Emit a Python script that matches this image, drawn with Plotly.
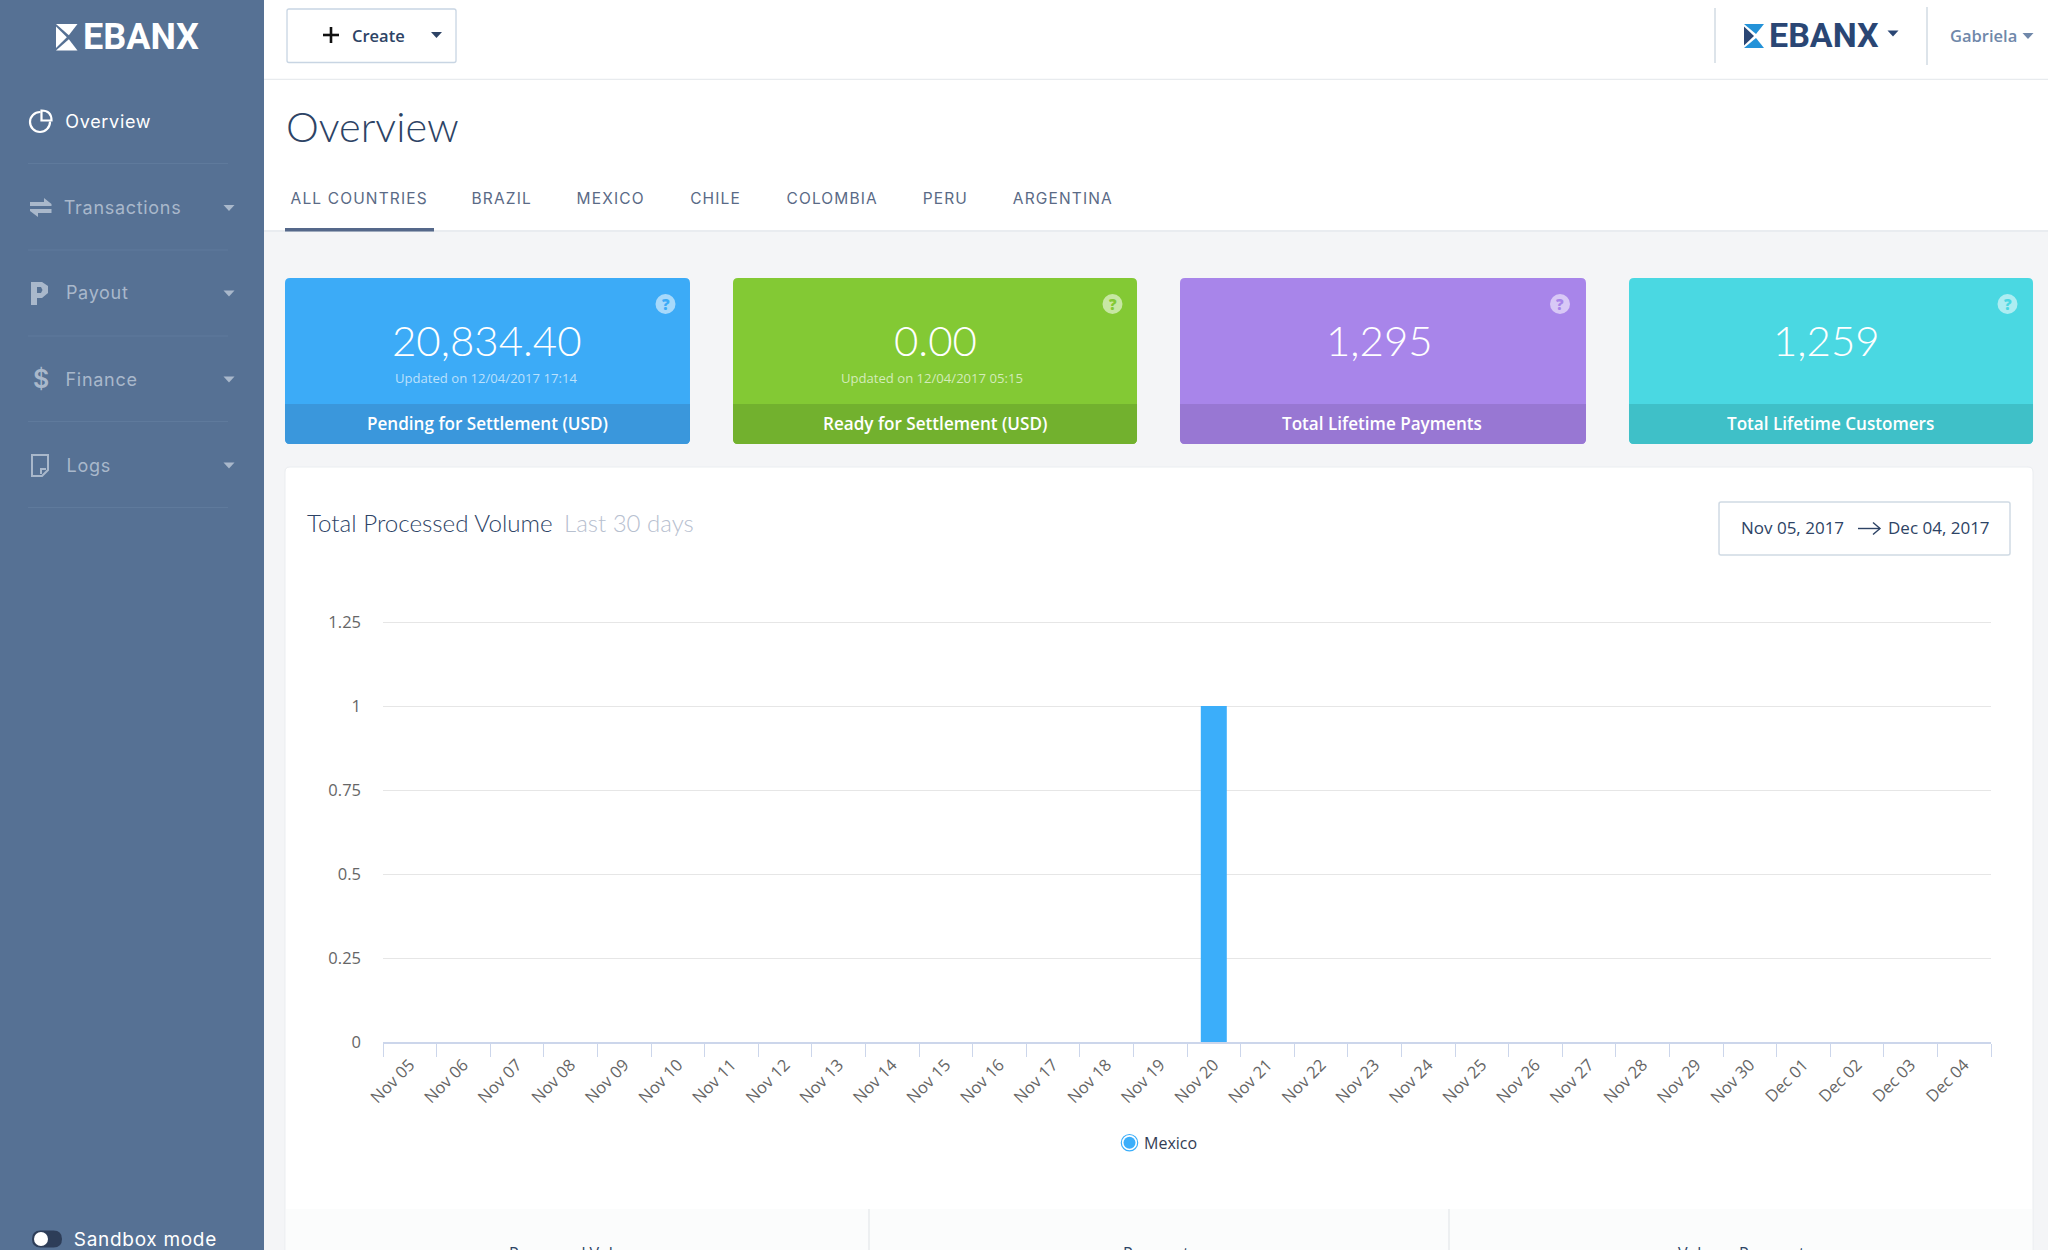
import plotly.graph_objects as go

W, H = 2048, 1250

# ---- chart data ----
dates = ["Nov 05","Nov 06","Nov 07","Nov 08","Nov 09","Nov 10","Nov 11","Nov 12","Nov 13","Nov 14",
         "Nov 15","Nov 16","Nov 17","Nov 18","Nov 19","Nov 20","Nov 21","Nov 22","Nov 23","Nov 24",
         "Nov 25","Nov 26","Nov 27","Nov 28","Nov 29","Nov 30","Dec 01","Dec 02","Dec 03","Dec 04"]
mexico = [0,0,0,0,0,0,0,0,0,0,0,0,0,0,0,1,0,0,0,0,0,0,0,0,0,0,0,0,0,0]
series_name = "Mexico"
y_ticks = [0, 0.25, 0.5, 0.75, 1, 1.25]

# ---- dashboard text ----
card_values = ["20,834.40", "0.00", "1,295", "1,259"]
card_notes = ["Updated on 12/04/2017 17:14", "Updated on 12/04/2017 05:15", "", ""]
card_labels = ["Pending for Settlement (USD)", "Ready for Settlement (USD)",
               "Total Lifetime Payments", "Total Lifetime Customers"]
tabs = ["ALL COUNTRIES", "BRAZIL", "MEXICO", "CHILE", "COLOMBIA", "PERU", "ARGENTINA"]
nav_items = ["Overview", "Transactions", "Payout", "Finance", "Logs"]
footer_heads = ["Processed Volume", "Payments", "Volume Payment"]

# ---- palette / placement ----
BAR = "#3baefa"
NAVY = "#2d4365"
SIDE = "#567194"
MUTED = "#a9b8cb"
card_x = [(285, 690), (733, 1137), (1180, 1586), (1629, 2033)]
card_fill = ["#3cabf7", "#83c934", "#a885ea", "#4ad8e2"]
card_band = ["#3a97dc", "#72b12e", "#9877d3", "#3fc0c8"]
card_val_x = [487, 935, 1379, 1826]
card_note_x = [486, 932, 0, 0]
card_lab_x = [487, 935, 1382, 1830]
card_q_x = [665.5, 1112.5, 1560, 2007.5]
tab_cx = [358.5, 502, 610.5, 715, 832, 945.5, 1062.5]
nav_y = [121.5, 207.5, 293, 379, 465]
PLOT = dict(l=383, r=1991, t=620, b=1042)


def fx(v):
    return v / W


def fy(v):
    return 1 - v / H


shapes, notes = [], []


def rect(x0, y0, x1, y1, fill, line=None, lw=1):
    shapes.append(dict(type="rect", xref="paper", yref="paper", x0=fx(x0), x1=fx(x1), y0=fy(y0), y1=fy(y1),
                       fillcolor=fill, line=dict(color=line or fill, width=lw if line else 0), layer="below"))


def rrect(x0, y0, x1, y1, fill, rt=5, rb=5, line=None, lw=1):
    def p(a, b):
        return f"{fx(a):.5f},{fy(b):.5f}"
    d = (f"M{p(x0 + rt, y0)} L{p(x1 - rt, y0)} Q{p(x1, y0)} {p(x1, y0 + rt)} L{p(x1, y1 - rb)} "
         f"Q{p(x1, y1)} {p(x1 - rb, y1)} L{p(x0 + rb, y1)} Q{p(x0, y1)} {p(x0, y1 - rb)} L{p(x0, y0 + rt)} "
         f"Q{p(x0, y0)} {p(x0 + rt, y0)} Z")
    path(None, fill=fill, line=line, lw=lw, raw=d)


def path(points, fill=None, line=None, lw=1, close=True, raw=None):
    if raw is None:
        d = "M" + " L".join(f"{fx(a):.5f},{fy(b):.5f}" for a, b in points) + (" Z" if close else "")
    else:
        d = raw
    shapes.append(dict(type="path", xref="paper", yref="paper", path=d, fillcolor=fill or "rgba(0,0,0,0)",
                       line=dict(color=line or "rgba(0,0,0,0)", width=lw if line else 0), layer="below"))


def hline(x0, x1, y, color, lw=1):
    shapes.append(dict(type="line", xref="paper", yref="paper", x0=fx(x0), x1=fx(x1), y0=fy(y), y1=fy(y),
                       line=dict(color=color, width=lw), layer="below"))


def vline(x, y0, y1, color, lw=1):
    shapes.append(dict(type="line", xref="paper", yref="paper", x0=fx(x), x1=fx(x), y0=fy(y0), y1=fy(y1),
                       line=dict(color=color, width=lw), layer="below"))


def circle(cx, cy, r, fill=None, line=None, lw=1):
    shapes.append(dict(type="circle", xref="paper", yref="paper", x0=fx(cx - r), x1=fx(cx + r), y0=fy(cy + r),
                       y1=fy(cy - r), fillcolor=fill or "rgba(0,0,0,0)",
                       line=dict(color=line or "rgba(0,0,0,0)", width=lw if line else 0), layer="below"))


def text(x, y, s, size, color, family="Open Sans", weight=400, anchor="left", ya="middle"):
    notes.append(dict(xref="paper", yref="paper", x=fx(x), y=fy(y), text=s, showarrow=False, xanchor=anchor,
                      yanchor=ya, borderpad=0,
                      font=dict(family=family, size=size, color=color, weight=weight)))


def caret(cx, cy, color, w=11, h=6):
    path([(cx - w / 2, cy - h / 2), (cx + w / 2, cy - h / 2), (cx, cy + h / 2)], fill=color)


def sigma(x0, y0, x1, y1, top, left, bottom):
    mx = x0 + (x1 - x0) * 0.55
    my = (y0 + y1) / 2
    path([(x0, y0), (x1, y0), (mx + 1, my - 2)], fill=top)
    path([(x0, y0 + 2.5), (mx - 1, my), (x0, y1 - 2.5)], fill=left)
    path([(x0, y1), (x1, y1), (mx + 1, my + 2)], fill=bottom)


# ---- page chrome ----
rect(0, 0, W, H, "#f4f5f7")
rect(264, 0, W, 79, "#ffffff")
hline(264, W, 79.5, "#e8ebee", 1.5)
rect(264, 80, W, 230, "#ffffff")
hline(264, W, 231, "#e6e9ee", 1.5)
rect(0, 0, 264, H, SIDE)

# sidebar
sigma(56, 24, 77.5, 50.5, "#ffffff", "#ffffff", "#ffffff")
text(82, 36.5, "EBANX", 36, "#ffffff", "Roboto", 700)
for i, (label, y) in enumerate(zip(nav_items, nav_y)):
    text(67, y, label, 18, "#ffffff" if i == 0 else MUTED, "Inter", 400)
    if i:
        caret(229, y + 0.5, MUTED)
for y in [163.5, 250, 336, 421.5, 507.5]:
    hline(28, 228, y, "#5f7a9c", 1.2)

# nav icons
circle(40, 122, 10, None, "#ffffff", 2.2)
path([(40.5, 110), (52, 110), (52, 121.5), (40.5, 121.5)], fill=SIDE)
path(None, None, "#ffffff", 2.2,
     raw=f"M{fx(41.5):.5f},{fy(110.5):.5f} Q{fx(51.5):.5f},{fy(110.5):.5f} {fx(51.5):.5f},{fy(120.5):.5f} "
         f"L{fx(41.5):.5f},{fy(120.5):.5f} Z")
path([(30, 202), (44, 202), (44, 198), (51.5, 204), (51.5, 206), (30, 206)], fill=MUTED)
path([(30, 209), (51.5, 209), (51.5, 213), (38, 213), (38, 217), (30, 211)], fill=MUTED)
path([(31, 282), (42, 282), (48, 286), (48, 293), (42, 298), (37, 298), (37, 305), (31, 305)], fill=MUTED)
path([(37, 287), (41, 287), (42.5, 290), (41, 293), (37, 293)], fill=SIDE)
text(40.5, 379, "$", 25, MUTED, "Inter", 600, anchor="center")
path([(32, 455), (48, 455), (48, 470), (42, 476), (32, 476)], None, MUTED, 2)
path([(41, 474), (41, 469), (46, 469)], None, MUTED, 2, close=False)

# sandbox switch
rrect(32, 1230.5, 62, 1247.5, "#2d3d58", 8.5, 8.5)
circle(41, 1239, 7, "#ffffff")
text(77, 1239, "Sandbox mode", 19, "#ffffff", "Inter", 400)

# top bar
rrect(287, 9, 456, 62.5, "#ffffff", 2, 2, "#c8d5e3", 1.3)
hline(323, 339, 35, "#111111", 2.6)
vline(331, 27, 43, "#111111", 2.6)
text(351, 35, "Create", 16.5, NAVY, "Open Sans", 600)
caret(436.5, 35, NAVY)
vline(1715, 8, 63, "#d5dee5", 1.6)
vline(1927, 7, 65, "#d5dee5", 1.6)
sigma(1744, 24, 1764, 48, "#2392d8", "#2a4674", "#2392d8")
text(1768, 35.5, "EBANX", 34, "#2a4674", "Roboto", 700)
caret(1893, 33.5, "#2a4674")
text(1949, 35, "Gabriela", 16.5, "#7088aa", "Open Sans", 600)
caret(2028, 36, "#7088aa")

# page head + tabs
text(285, 125.5, "Overview", 41.5, NAVY, "Lato", 300)
for s, x in zip(tabs, tab_cx):
    text(x, 198.5, s, 15.5, "#5a6a86", "Inter", 400, anchor="center")
rect(285, 228, 434, 231.5, "#55688a")

# KPI cards
for i, (x0, x1) in enumerate(card_x):
    rrect(x0, 278, x1, 444, card_fill[i])
    rrect(x0, 404, x1, 444, card_band[i], 0, 5)
    text(card_val_x[i], 339.5, card_values[i], 42, "#ffffff", "Lato", 300, anchor="center")
    if card_notes[i]:
        text(card_note_x[i], 378, card_notes[i], 13.1, "rgba(255,255,255,0.66)", "Open Sans", 400, anchor="center")
    text(card_lab_x[i], 424, card_labels[i], 17.1, "#ffffff", "Open Sans", 600, anchor="center")
    circle(card_q_x[i], 304, 10, "rgba(255,255,255,0.55)")
    text(card_q_x[i], 304, "?", 15, card_fill[i], "Open Sans", 800, anchor="center")

# chart panel
rrect(285, 467, 2033, H + 10, "#ffffff", 5, 0, "#eaedf0", 1)
text(306, 522, "Total Processed Volume", 24.2, NAVY, "Lato", 300)
text(563, 522, "Last 30 days", 24, "#b7c0cf", "Lato", 300)
rrect(1719, 502, 2010, 555, "#ffffff", 2, 2, "#d0dae4", 1.5)
text(1740, 527.5, "Nov 05, 2017", 17, NAVY)
hline(1858, 1880, 528.5, NAVY, 1.4)
path([(1873, 522.5), (1880, 528.5), (1873, 534.5)], None, NAVY, 1.4, close=False)
text(1887, 527.5, "Dec 04, 2017", 17, NAVY)

# footer strip of the panel
rect(286, 1209, 2032, H + 4, "#fbfcfc")
vline(869, 1209, H, "#dfe3e6", 1)
vline(1449, 1209, H, "#dfe3e6", 1)
for s, x in zip(footer_heads, [577, 1159, 1741]):
    text(x, 1241, s, 16, NAVY, "Open Sans", 400, anchor="center", ya="top")

# legend glyph: ring and dot; the label is the real legend entry
LEGEND_X, LEGEND_Y = 1129.5, 1142.7
circle(LEGEND_X, LEGEND_Y, 8.2, None, BAR, 1.2)
circle(LEGEND_X, LEGEND_Y, 6, BAR)

# ---- figure ----
fig = go.Figure()
fig.add_trace(go.Bar(x=dates, y=mexico, name=series_name, marker=dict(color=BAR, line=dict(width=0)),
                     showlegend=False))
fig.add_trace(go.Scatter(x=[None], y=[None], mode="markers", name=series_name,
                         marker=dict(color="rgba(0,0,0,0)", size=12, symbol="circle")))

fig.update_layout(
    width=W, height=H, autosize=False,
    margin=dict(l=0, r=0, t=0, b=0, pad=0, autoexpand=False),
    paper_bgcolor="#f4f5f7", plot_bgcolor="rgba(0,0,0,0)",
    bargap=0.515, hovermode=False,
    font=dict(family="Open Sans", color="#666666", size=15),
    shapes=shapes, annotations=notes,
    showlegend=True,
    legend=dict(xref="paper", yref="paper", x=fx(1104), y=fy(LEGEND_Y), xanchor="left", yanchor="middle",
                bgcolor="rgba(0,0,0,0)", borderwidth=0,
                font=dict(family="Open Sans", size=16, color="#333d55"), itemwidth=30),
    xaxis=dict(domain=[fx(PLOT["l"]), fx(PLOT["r"])], type="category", categoryorder="array", categoryarray=dates,
               tickson="boundaries", ticks="outside", ticklen=13, tickwidth=1.3, tickcolor="#ccd6eb",
               tickangle=-45, ticklabelstandoff=5, tickfont=dict(family="Open Sans", size=16.5, color="#666666"),
               showgrid=False, showline=True, linecolor="#ccd6eb", linewidth=1.6, zeroline=False,
               fixedrange=True),
    yaxis=dict(domain=[fy(PLOT["b"]), fy(PLOT["t"])], range=[0, 1.256], tickmode="array", tickvals=y_ticks,
               ticks="", ticklabelstandoff=21, tickfont=dict(family="Open Sans", size=16.5, color="#666666"),
               showgrid=True, gridcolor="#e6e6e6", gridwidth=1.2, showline=False, zeroline=False, fixedrange=True),
)

# Page margin off; tracked lettering for the tab and sidebar labels, as in the reference.
post = """
document.documentElement.style.margin = '0';
document.body.style.margin = '0';
document.body.style.overflow = 'hidden';
var tracked = {'ALL COUNTRIES':1.15,'BRAZIL':1.15,'MEXICO':1.15,'CHILE':1.15,'COLOMBIA':1.15,'PERU':1.15,'ARGENTINA':1.15,
               'Overview':0.7,'Transactions':0.7,'Payout':0.7,'Finance':0.7,'Logs':0.7,'Sandbox mode':0.7};
document.querySelectorAll('.annotation-text').forEach(function (t) {
  var s = tracked[t.textContent];
  if (s && !(t.textContent === 'Overview' && parseFloat(t.style.fontSize) > 30)) { t.style.letterSpacing = s + 'px'; }
});
"""
fig.write_html("out.html", config={"displayModeBar": False}, post_script=post)
